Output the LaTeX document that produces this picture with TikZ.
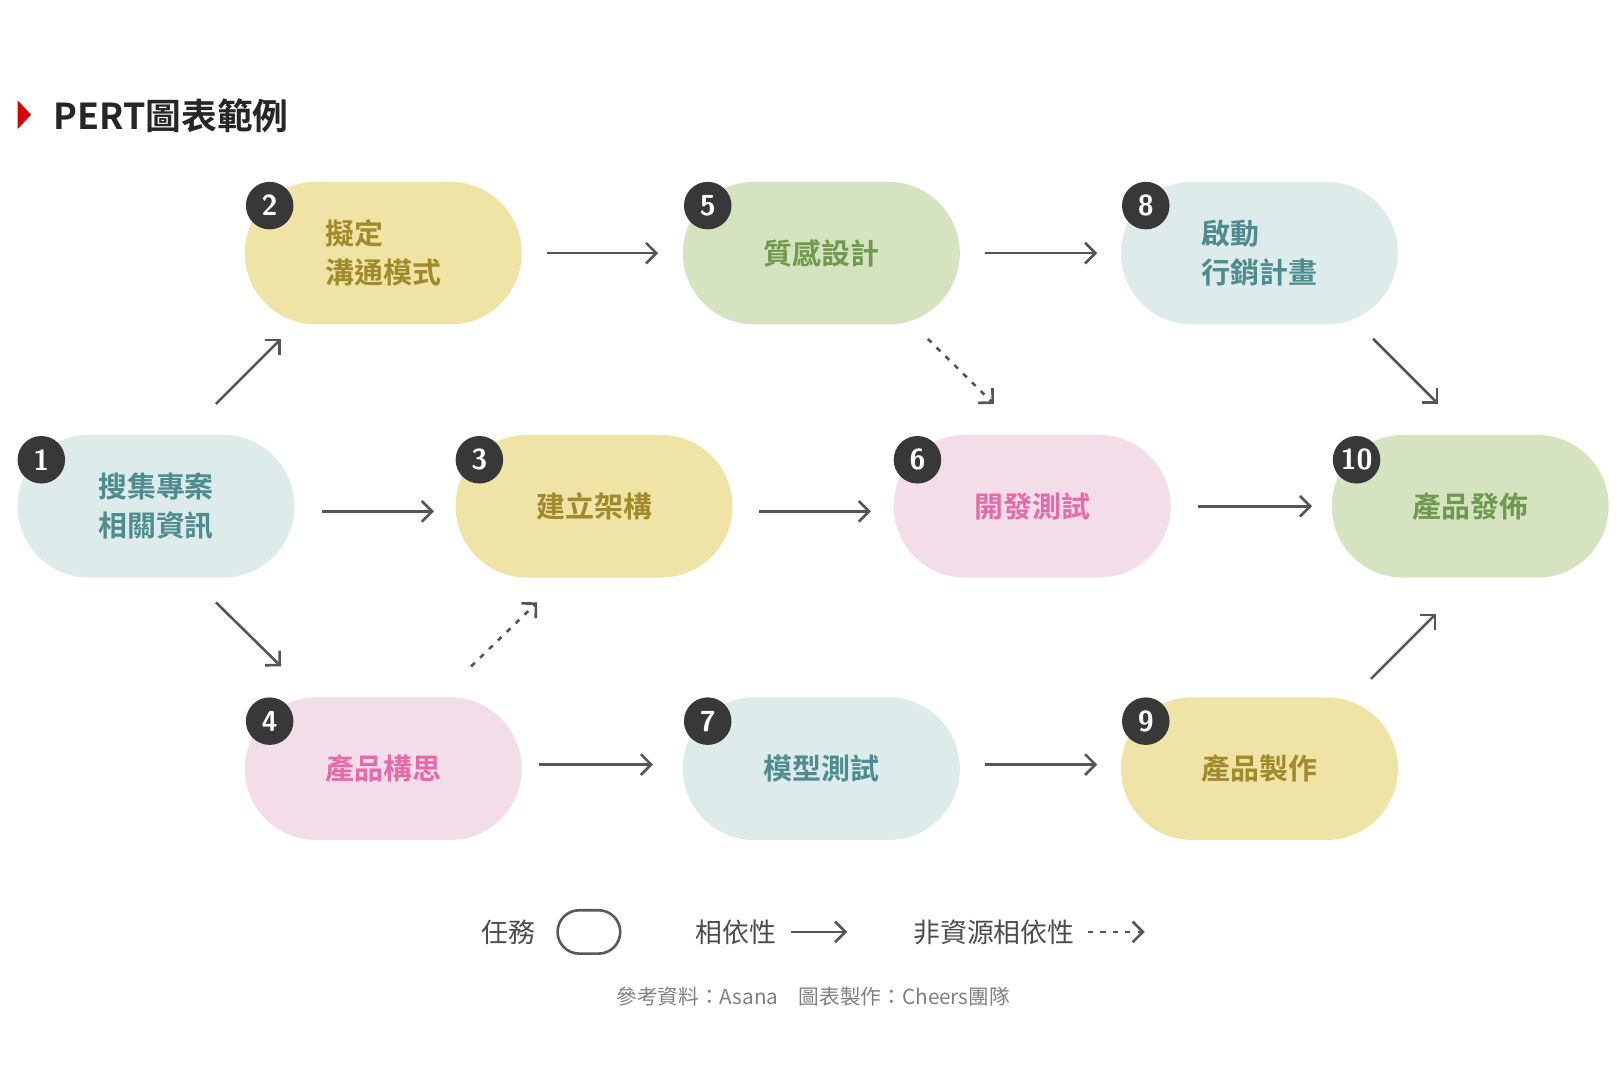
\documentclass[tikz,border=0pt]{standalone}
\usepackage{fontspec}
\setmainfont{Noto Sans CJK TC}
\newfontfamily\bcjk{Noto Sans CJK TC Bold}
\usetikzlibrary{arrows.meta,shapes.misc}
\definecolor{bfill}{HTML}{DDEBEA}\definecolor{btxt}{HTML}{4E8C8F}
\definecolor{yfill}{HTML}{EFE3A6}\definecolor{ytxt}{HTML}{A08A2A}
\definecolor{gfill}{HTML}{D5E3C0}\definecolor{gtxt}{HTML}{6E9A4E}
\definecolor{pfill}{HTML}{F3DDE8}\definecolor{ptxt}{HTML}{E46AAA}
\definecolor{arr}{HTML}{555555}
\tikzset{
 pill/.style={rounded rectangle,minimum width=134pt,minimum height=69pt,inner sep=0pt,font=\bcjk\fontsize{14pt}{19pt}\selectfont,align=left},
 bpill/.style={pill,fill=bfill,text=btxt},
 ypill/.style={pill,fill=yfill,text=ytxt},
 gpill/.style={pill,fill=gfill,text=gtxt},
 ppill/.style={pill,fill=pfill,text=ptxt},
 num/.style={circle,fill=black!78,text=white,minimum size=23pt,inner sep=0pt,font=\fontfamily{}\sffamily\bfseries\fontsize{14pt}{14pt}\selectfont},
 dep/.style={draw=arr,line width=1.25pt,-{Straight Barb[length=5pt,width=10pt,line width=1.25pt]}},
 ndep/.style={dep,dash pattern=on 2.5pt off 3.5pt},
 lg/.style={font=\fontsize{13pt}{13pt}\selectfont,text=black!70}
}
\begin{document}
\begin{tikzpicture}[x=0.5pt,y=-0.5pt]
\useasboundingbox[fill=white] (0,0) rectangle (1568,1051);
\fill[red!85!black] (17,97) -- (30,111) -- (17,125) -- cycle;
\node[anchor=west,font=\bcjk\fontsize{17.3pt}{17.3pt}\selectfont,text=black!85] (title) at (45,112) {PERT圖表範例};
\node[bpill] (n1) at (151,490) {搜集專案\\相關資訊};
\node[ypill] (n2) at (371,245) {擬定\\溝通模式};
\node[ypill] (n3) at (575,490) {建立架構};
\node[ppill] (n4) at (371,744) {產品構思};
\node[gpill] (n5) at (795,245) {質感設計};
\node[ppill] (n6) at (999,490) {開發測試};
\node[bpill] (n7) at (795,744) {模型測試};
\node[bpill] (n8) at (1219,245) {啟動\\行銷計畫};
\node[ypill] (n9) at (1219,744) {產品製作};
\node[gpill] (n10) at (1423,490) {產品發佈};
\foreach \i/\x/\y in {1/40/445,2/261/199,3/464/445,4/261/698,5/685/199,6/888/445,7/685/698,8/1109/199,9/1109/698,10/1313/445}
  \node[num] (c\i) at (\x,\y) {\i};
% connector endpoints
\coordinate (a13) at (312,495); \coordinate (b13) at (420,495);
\coordinate (a36) at (735,495); \coordinate (b36) at (843,495);
\coordinate (a610) at (1160,490); \coordinate (b610) at (1270,490);
\coordinate (a25) at (529,245); \coordinate (b25) at (637,245);
\coordinate (a58) at (953,245); \coordinate (b58) at (1062,245);
\coordinate (a47) at (522,740); \coordinate (b47) at (632,740);
\coordinate (a79) at (953,740); \coordinate (b79) at (1062,740);
\coordinate (a12) at (209,391); \coordinate (b12) at (272,328);
\coordinate (a14) at (209,583); \coordinate (b14) at (272,645);
\coordinate (a43) at (456,645); \coordinate (b43) at (520,583);
\coordinate (a56) at (898,328); \coordinate (b56) at (962,391);
\coordinate (a810) at (1329,328); \coordinate (b810) at (1392,391);
\coordinate (a910) at (1327,657); \coordinate (b910) at (1390,594);
\foreach \p in {13,36,610,25,58,47,79,12,14,810,910} \draw[dep] (a\p) -- (b\p);
\draw[ndep] (a43) -- (b43);
\draw[ndep] (a56) -- (b56);
% legend
\node[lg] (l1) at (492,902) {任務};
\node[draw=black!65,line width=1.25pt,rounded rectangle,minimum width=37pt,minimum height=21pt] (lp) at (570,902) {};
\node[lg] (l2) at (712,902) {相依性};
\coordinate (la) at (766,902); \coordinate (lb) at (820,902);
\draw[dep] (la) -- (lb);
\node[lg] (l3) at (962,902) {非資源相依性};
\coordinate (lc) at (1053,902); \coordinate (ld) at (1108,902);
\draw[ndep] (lc) -- (ld);
\node[font=\fontsize{10pt}{10pt}\selectfont,text=black!50] (foot) at (787,965) {參考資料：Asana\quad 圖表製作：Cheers團隊};
\end{tikzpicture}
\end{document}
